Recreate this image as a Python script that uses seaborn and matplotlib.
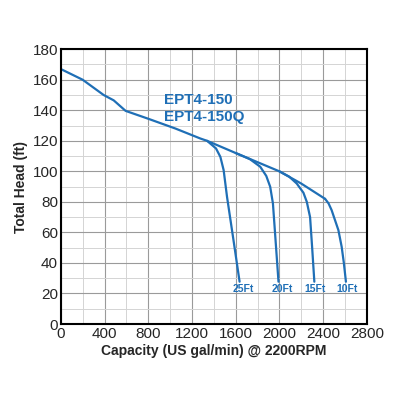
import numpy as np
import pandas as pd
import seaborn as sns
import matplotlib.pyplot as plt
from matplotlib.ticker import MultipleLocator

sns.set_style('white')
plt.rcParams['font.family'] = ['Liberation Sans', 'DejaVu Sans']

BLUE = '#1f6fb6'

# main curve (shared part)
main_q = [0, 200, 392, 484, 593, 794, 1050, 1277, 1338, 1600, 2000, 2200, 2418]
main_h = [167, 160, 150, 146.5, 139.6, 134.6, 128, 121.5, 120, 112, 100, 92, 82]

# suction-lift branches
b25_q = [1338, 1420, 1460, 1490, 1521, 1580, 1636]
b25_h = [120, 115, 109.5, 100.8, 83.3, 55, 27.7]
b20_q = [1600, 1730, 1825, 1880, 1916, 1941, 1960, 1992]
b20_h = [112, 108, 103, 97, 89.9, 79, 60, 27.7]
b15_q = [2000, 2090, 2159, 2220, 2251, 2281, 2300, 2320]
b15_h = [100, 96.5, 92, 86, 80, 70, 50, 27.7]
b10_q = [2418, 2450, 2478, 2540, 2570, 2590, 2609]
b10_h = [82, 79, 74.6, 61.5, 50.6, 40, 27.7]

branch_names = ['25Ft', '20Ft', '15Ft', '10Ft']
label_q = [1670, 2025, 2327, 2620]
label_h = [23, 23, 23, 23]

frames = [pd.DataFrame({'q': main_q, 'h': main_h, 'curve': 'main'})]
for name, q, h in zip(branch_names, [b25_q, b20_q, b15_q, b10_q],
                      [b25_h, b20_h, b15_h, b10_h]):
    frames.append(pd.DataFrame({'q': q, 'h': h, 'curve': name}))
df = pd.concat(frames, ignore_index=True)

fig, ax = plt.subplots(figsize=(4, 4), dpi=100)
fig.subplots_adjust(left=0.152, right=0.917, top=0.877, bottom=0.19)

sns.lineplot(data=df, x='q', y='h', units='curve', estimator=None, sort=False,
             color=BLUE, lw=1.6, ax=ax)

for name, x, y in zip(branch_names, label_q, label_h):
    ax.text(x, y, name, color=BLUE, fontsize=7.5, fontweight='bold',
            ha='center', va='center')

ax.text(940, 146.5, 'EPT4-150', color=BLUE, fontsize=11, fontweight='bold',
        va='center')
ax.text(940, 135.5, 'EPT4-150Q', color=BLUE, fontsize=11, fontweight='bold',
        va='center')

ax.set_xlim(0, 2800)
ax.set_ylim(0, 180)
ax.xaxis.set_major_locator(MultipleLocator(400))
ax.xaxis.set_minor_locator(MultipleLocator(200))
ax.yaxis.set_major_locator(MultipleLocator(20))
ax.yaxis.set_minor_locator(MultipleLocator(10))
ax.grid(which='major', color='#9a9a9a', lw=0.8)
ax.grid(which='minor', color='#d4d4d4', lw=0.7)
ax.set_axisbelow(True)
for s in ax.spines.values():
    s.set_color('black')
    s.set_linewidth(1.5)
ax.tick_params(which='both', length=0, labelsize=11, pad=2)

ax.set_xlabel('Capacity (US gal/min) @ 2200RPM', fontsize=10,
              fontweight='bold', labelpad=2)
ax.set_ylabel('Total Head (ft)', fontsize=10, fontweight='bold', labelpad=3)

fig.savefig('out.png', dpi=100)
